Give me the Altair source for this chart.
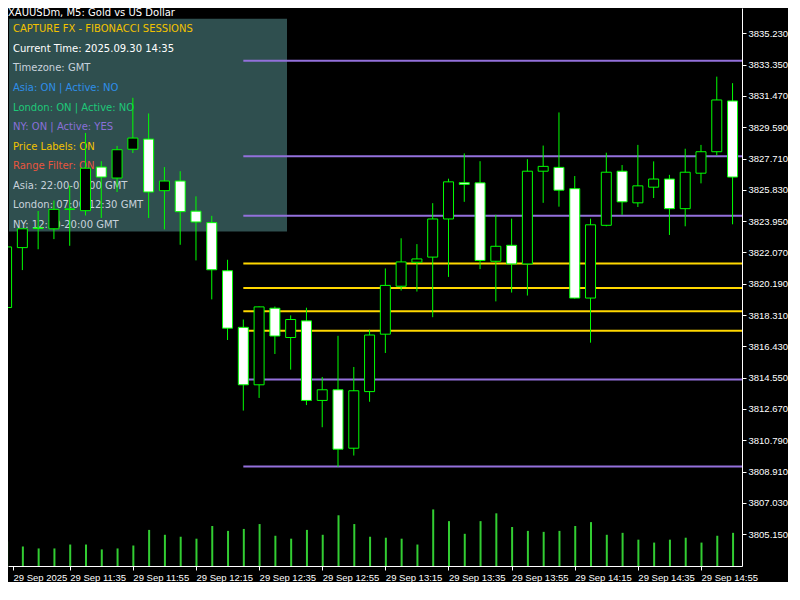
import altair as alt
import pandas as pd

# ---------------- data ----------------
times = [t.strftime("%H:%M") for t in pd.date_range("2025-09-29 11:15", periods=47, freq="5min")]

opens = [3818.76, 3822.36, 3823.51, 3823.49, 3824.66, 3824.58, 3827.20, 3826.54, 3828.27, 3828.88,
         3825.78, 3826.36, 3824.55, 3823.86, 3820.97, 3817.57, 3814.12, 3818.72, 3816.96, 3817.96,
         3813.18, 3813.82, 3810.31, 3813.71, 3817.16, 3820.04, 3821.48, 3821.79, 3824.08, 3826.26,
         3826.25, 3821.54, 3822.50, 3821.38, 3826.95, 3827.18, 3825.90, 3819.33, 3823.70, 3826.95,
         3825.05, 3825.99, 3826.48, 3824.70, 3826.83, 3828.12, 3831.17]
highs = [3822.69, 3823.51, 3824.56, 3825.19, 3826.09, 3829.25, 3827.55, 3828.47, 3831.36, 3830.42,
         3827.20, 3826.95, 3825.44, 3824.27, 3821.63, 3818.04, 3818.82, 3818.82, 3818.29, 3818.75,
         3814.59, 3817.06, 3815.19, 3817.42, 3821.11, 3822.92, 3822.57, 3825.03, 3826.50, 3828.02,
         3827.55, 3824.33, 3824.10, 3827.67, 3828.49, 3830.48, 3826.66, 3824.10, 3828.06, 3827.32,
         3828.53, 3827.54, 3826.73, 3828.30, 3828.53, 3832.63, 3832.24]
lows = [3818.47, 3821.01, 3822.26, 3822.87, 3822.47, 3824.29, 3824.14, 3825.70, 3828.04, 3824.14,
        3823.45, 3822.53, 3821.59, 3819.25, 3816.81, 3812.57, 3813.33, 3815.97, 3815.03, 3812.90,
        3811.57, 3809.19, 3809.87, 3813.10, 3816.03, 3819.78, 3819.72, 3818.18, 3820.60, 3825.11,
        3821.07, 3819.13, 3819.66, 3819.48, 3825.05, 3824.82, 3819.29, 3816.65, 3823.64, 3824.33,
        3824.80, 3825.34, 3823.12, 3823.64, 3826.22, 3827.89, 3823.76]
closes = [3822.40, 3823.49, 3823.54, 3824.66, 3824.68, 3827.13, 3826.60, 3828.24, 3828.94, 3825.70,
          3826.36, 3824.52, 3823.90, 3821.03, 3817.52, 3814.12, 3818.80, 3817.05, 3818.04, 3813.18,
          3813.82, 3810.25, 3813.76, 3817.11, 3820.09, 3821.50, 3821.68, 3824.08, 3826.31, 3826.16,
          3821.59, 3822.44, 3821.38, 3826.95, 3827.24, 3825.81, 3819.33, 3823.73, 3826.89, 3825.11,
          3826.07, 3826.48, 3824.70, 3826.89, 3828.12, 3831.23, 3826.60]
volumes = [1000, 800, 720, 720, 880, 880, 680, 720, 840, 1480,
           1280, 1200, 1120, 1640, 1440, 1520, 1720, 1240, 1120, 1480,
           1280, 2080, 1720, 1200, 1160, 1120, 880, 2320, 1840, 1320,
           1840, 2160, 1600, 1440, 1400, 1440, 1640, 1800, 1280, 1360,
           1080, 960, 1080, 1160, 960, 1240, 1360]

fib_purple = [3833.59, 3827.85, 3824.27, 3814.43, 3809.21]
fib_yellow = [3821.40, 3819.94, 3818.53, 3817.36]
fib_start_time = "12:30"

y_ticks = [3835.23, 3833.35, 3831.47, 3829.59, 3827.71, 3825.83, 3823.95, 3822.07, 3820.19,
           3818.31, 3816.43, 3814.55, 3812.67, 3810.79, 3808.91, 3807.03, 3805.15]
x_tick_times = ["11:15", "11:35", "11:55", "12:15", "12:35", "12:55", "13:15", "13:35",
                "13:55", "14:15", "14:35", "14:55"]
x_tick_labels = ["29 Sep 2025", "29 Sep 11:35", "29 Sep 11:55", "29 Sep 12:15", "29 Sep 12:35",
                 "29 Sep 12:55", "29 Sep 13:15", "29 Sep 13:35", "29 Sep 13:55", "29 Sep 14:15",
                 "29 Sep 14:35", "29 Sep 14:55"]

header = "XAUUSDm, M5:  Gold vs US Dollar"
panel_lines = ["CAPTURE FX - FIBONACCI SESSIONS", "Current Time: 2025.09.30 14:35", "Timezone: GMT",
               "Asia: ON | Active: NO", "London: ON | Active: NO", "NY: ON | Active: YES",
               "Price Labels: ON", "Range Filter: ON", "Asia: 22:00-07:00 GMT",
               "London: 07:00-12:30 GMT", "NY: 12:30-20:00 GMT"]
panel_colors = ["#f2c200", "#ffffff", "#c8d2dc", "#2e8ee8", "#1ec878", "#8a70d8",
                "#f2c200", "#e8553e", "#c8d2dc", "#c8d2dc", "#c8d2dc"]

# ---------------- tables ----------------
df = pd.DataFrame({"time": times, "open": opens, "high": highs, "low": lows,
                   "close": closes, "volume": volumes})
df["i"] = range(len(df))
df["body"] = ["#000000" if c >= o else "#ffffff" for o, c in zip(opens, closes)]

start_i = times.index(fib_start_time)
fib = pd.DataFrame({"price": fib_purple + fib_yellow,
                    "color": ["#9370db"] * len(fib_purple) + ["#ffd700"] * len(fib_yellow)})
fib["i"] = start_i

W, H = 734, 558
x_scale = alt.Scale(domain=[0.40625, 46.28125], nice=False, zero=False)
y_scale = alt.Scale(domain=[3803.234, 3836.754], nice=False, zero=False)

tick_idx = [times.index(t) for t in x_tick_times]
tick_idx[0] = 0.40625
label_arr = "[" + ",".join("'%s'" % s for s in x_tick_labels) + "]"
x_axis = alt.Axis(values=tick_idx, labelExpr=label_arr + "[round(datum.value/4)]",
                  labelAlign="left", labelFlush=False, labelOverlap=False, tickSize=4,
                  labelPadding=2, grid=False, title=None, labelBaseline="top")
y_axis = alt.Axis(orient="right", values=y_ticks, format=".3f", tickSize=4, labelPadding=2,
                  labelFlush=False, labelOverlap=False, grid=False, title=None)

X = alt.X("i:Q", scale=x_scale, axis=x_axis)

# ---------------- layers ----------------
one = pd.DataFrame({"a": [0]})
k = H / 572.0
panel_rect = alt.Chart(one).mark_rect(color="#2f4f4f").encode(
    x=alt.value(1), x2=alt.value(279), y=alt.value((19 - 8) * k), y2=alt.value((237 - 8) * k))

texts = []
for n, (line, col) in enumerate(zip(panel_lines, panel_colors)):
    texts.append(alt.Chart(pd.DataFrame({"t": [line]})).mark_text(
        align="left", baseline="middle", font="DejaVu Sans", fontSize=10, color=col
    ).encode(text="t:N", x=alt.value(5), y=alt.value((30 + 20 * n - 8) * k)))

head = alt.Chart(pd.DataFrame({"t": [header]})).mark_text(
    align="left", baseline="top", font="DejaVu Sans", fontSize=10, color="#ffffff"
).encode(text="t:N", x=alt.value(0), y=alt.value(0))

fib_rules = alt.Chart(fib).mark_rule(strokeWidth=2).encode(
    x=X, x2=alt.value(W),
    y=alt.Y("price:Q", scale=y_scale, axis=y_axis),
    color=alt.Color("color:N", scale=None))

wicks = alt.Chart(df).mark_rule(color="#00ff00", strokeWidth=1, clip=True).encode(
    x=X, y=alt.Y("low:Q", scale=y_scale, axis=y_axis), y2="high:Q")

bodies = alt.Chart(df).mark_bar(size=10, stroke="#00ff00", strokeWidth=1, clip=True).encode(
    x=X, y=alt.Y("open:Q", scale=y_scale, axis=y_axis), y2="close:Q",
    fill=alt.Fill("body:N", scale=None))

vol = alt.Chart(df).mark_bar(size=2, xOffset=0.5, color="#32cd32", clip=True).encode(
    x=X, y=alt.Y("volume:Q", scale=alt.Scale(domain=[0, 22880], nice=False), axis=None))

price_group = alt.layer(panel_rect, *texts, fib_rules, wicks, bodies, head)

chart = alt.layer(vol, price_group).resolve_scale(y="independent").properties(
    width=W, height=H, background="#000000", padding=0
).configure_view(stroke=None).configure_axis(
    domainColor="#ffffff", tickColor="#ffffff", labelColor="#ffffff",
    labelFont="Liberation Sans", labelFontSize=9.5, domainWidth=1, tickWidth=1
)

chart.save("out.html", embed_options={"renderer": "svg", "actions": False})
